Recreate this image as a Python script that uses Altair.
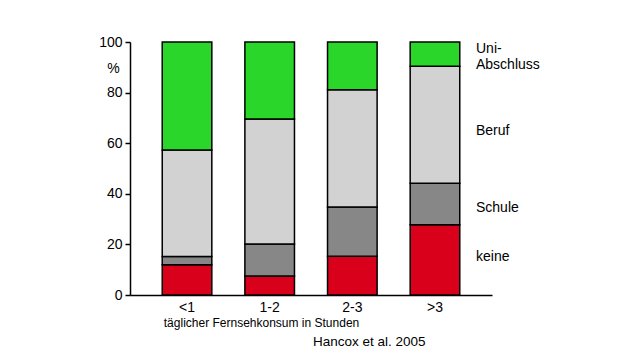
import altair as alt
import pandas as pd

categories = ["<1", "1-2", "2-3", ">3"]
levels = ["keine", "Schule", "Beruf", "Uni-Abschluss"]
keine = [12.0, 7.5, 15.3, 27.8]
schule = [3.2, 12.7, 19.5, 16.4]
beruf = [42.1, 49.4, 46.3, 46.2]
uni = [42.7, 30.4, 18.9, 9.6]
colors = ["#d9001b", "#878787", "#d2d2d2", "#2ad62a"]

label_texts = ["Uni-", "Abschluss", "Beruf", "Schule", "keine"]
label_y = [97.3, 90.9, 65.0, 34.4, 15.1]

rows = []
for i, c in enumerate(categories):
    for j, (lev, vals) in enumerate(zip(levels, [keine, schule, beruf, uni])):
        rows.append({"cat": c, "level": lev, "order": j, "value": vals[i]})
df = pd.DataFrame(rows)

FONT = "Liberation Sans"

bars = alt.Chart(df).mark_bar(stroke="black", strokeWidth=1.5, opacity=1).encode(
    x=alt.X("cat:N", sort=categories,
            scale=alt.Scale(paddingInner=0.4, paddingOuter=0.39),
            axis=alt.Axis(title="täglicher Fernsehkonsum in Stunden", labelAngle=0,
                          ticks=False, tickSize=0, labelPadding=5,
                          labelFontSize=14, labelColor="black", labelFont=FONT,
                          titleFont=FONT, titleFontSize=12, titleFontWeight="normal",
                          titleColor="black", titleX=131, titleY=27,
                          titleBaseline="middle",
                          domainColor="black", domainWidth=1.5)),
    y=alt.Y("value:Q", stack="zero",
            scale=alt.Scale(domain=[0, 100], nice=False),
            axis=alt.Axis(title="%", values=[0, 20, 40, 60, 80, 100], grid=False,
                          tickSize=5, tickColor="black", tickWidth=1.5,
                          labelPadding=3, labelFontSize=14, labelColor="black",
                          labelFont=FONT, titleFont=FONT, titleFontSize=14,
                          titleFontWeight="normal", titleColor="black",
                          titleAngle=0, titleX=-17, titleY=26,
                          titleAlign="center", titleBaseline="middle",
                          domainColor="black", domainWidth=1.5)),
    color=alt.Color("level:N", sort=levels,
                    scale=alt.Scale(domain=levels, range=colors), legend=None),
    order=alt.Order("order:Q", sort="ascending"),
)

lab_df = pd.DataFrame({"t": label_texts, "y": label_y})
labels = alt.Chart(lab_df).mark_text(
    align="left", baseline="middle", fontSize=14, font=FONT, color="black"
).encode(
    x=alt.value(346),
    y=alt.Y("y:Q"),
    text="t:N",
)

src_df = pd.DataFrame({"t": ["Hancox et al. 2005"]})
source = alt.Chart(src_df).mark_text(
    align="left", baseline="middle", fontSize=13.5, font=FONT, color="black"
).encode(
    x=alt.value(183),
    y=alt.value(300),
    text="t:N",
)

chart = alt.layer(bars, labels, source).properties(
    width=362, height=253,
    autosize=alt.AutoSizeParams(type="none"),
    padding={"left": 122, "top": 34, "right": 140, "bottom": 57},
    background="white",
).configure_view(stroke=None)

chart.save("out.html", embed_options={"renderer": "svg", "actions": False})
